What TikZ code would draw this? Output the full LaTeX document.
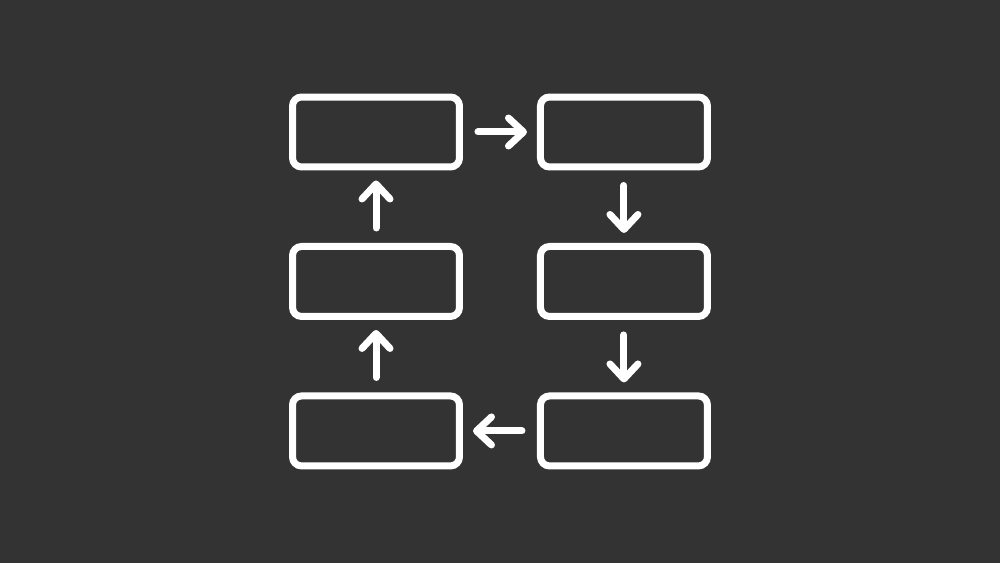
\documentclass[tikz,border=0pt]{standalone}
\usetikzlibrary{arrows.meta,positioning}
\definecolor{bg}{HTML}{333333}

\begin{document}
\begin{tikzpicture}[x=0.02cm,y=-0.02cm,node distance=2.99cm and 4.96cm,on grid,
    box/.style={draw=white,line width=0.14cm,rounded corners=0.18cm,
                minimum width=3.34cm,minimum height=1.4cm},
    flow/.style={draw=white,line width=0.14cm,line cap=round,
                 -{Straight Barb[length=0.3cm,width=0.56cm,round]},
                 shorten <=0.3cm,shorten >=0.2cm}]
    \fill[bg] (0,0) rectangle (1000,563);
    \node[box] (b_1) at (376,132) {};
    \node[box] (b_2) [right=of b_1] {};
    \node[box] (b_3) [below=of b_1] {};
    \node[box] (b_4) [right=of b_3] {};
    \node[box] (b_5) [below=of b_3] {};
    \node[box] (b_6) [right=of b_5] {};
    \path[flow] (b_1) edge (b_2)
                (b_2) edge (b_4)
                (b_4) edge (b_6)
                (b_6) edge (b_5)
                (b_5) edge (b_3)
                (b_3) edge (b_1);
\end{tikzpicture}
\end{document}
